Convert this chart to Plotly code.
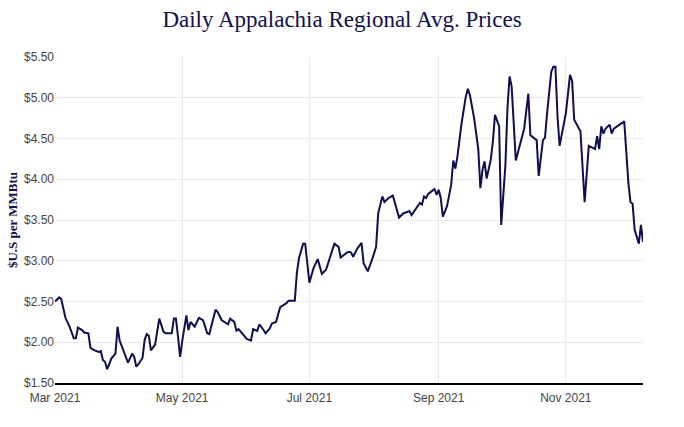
import plotly.graph_objects as go

dates = [
    "2021-03-01", "2021-03-03", "2021-03-04", "2021-03-05", "2021-03-06", "2021-03-08",
    "2021-03-10", "2021-03-11", "2021-03-12", "2021-03-14", "2021-03-15", "2021-03-17",
    "2021-03-18", "2021-03-20", "2021-03-22", "2021-03-23", "2021-03-24", "2021-03-25",
    "2021-03-26", "2021-03-27", "2021-03-28", "2021-03-30", "2021-03-31", "2021-04-01",
    "2021-04-03", "2021-04-05", "2021-04-07", "2021-04-08", "2021-04-09", "2021-04-10",
    "2021-04-12", "2021-04-13", "2021-04-14", "2021-04-15", "2021-04-16", "2021-04-18",
    "2021-04-20", "2021-04-22", "2021-04-23", "2021-04-26", "2021-04-27", "2021-04-28",
    "2021-04-29", "2021-04-30", "2021-05-01", "2021-05-03", "2021-05-04", "2021-05-05",
    "2021-05-07", "2021-05-09", "2021-05-11", "2021-05-13", "2021-05-14", "2021-05-17",
    "2021-05-18", "2021-05-20", "2021-05-23", "2021-05-24", "2021-05-26", "2021-05-27",
    "2021-05-28", "2021-05-31", "2021-06-01", "2021-06-03", "2021-06-04", "2021-06-06",
    "2021-06-07", "2021-06-09", "2021-06-10", "2021-06-12", "2021-06-13", "2021-06-15",
    "2021-06-17", "2021-06-20", "2021-06-21", "2021-06-24", "2021-06-25", "2021-06-26",
    "2021-06-28", "2021-06-29", "2021-07-01", "2021-07-03", "2021-07-05", "2021-07-07",
    "2021-07-09", "2021-07-12", "2021-07-13", "2021-07-15", "2021-07-16", "2021-07-19",
    "2021-07-20", "2021-07-21", "2021-07-22", "2021-07-24", "2021-07-26", "2021-07-27",
    "2021-07-29", "2021-07-31", "2021-08-02", "2021-08-03", "2021-08-05", "2021-08-06",
    "2021-08-08", "2021-08-10", "2021-08-11", "2021-08-13", "2021-08-15", "2021-08-17",
    "2021-08-18", "2021-08-19", "2021-08-21", "2021-08-23", "2021-08-24", "2021-08-25",
    "2021-08-26", "2021-08-27", "2021-08-29", "2021-08-30", "2021-08-31", "2021-09-01",
    "2021-09-02", "2021-09-03", "2021-09-05", "2021-09-07", "2021-09-08", "2021-09-09",
    "2021-09-10", "2021-09-12", "2021-09-14", "2021-09-15", "2021-09-16", "2021-09-18",
    "2021-09-20", "2021-09-21", "2021-09-22", "2021-09-23", "2021-09-24", "2021-09-26",
    "2021-09-27", "2021-09-28", "2021-09-30", "2021-10-01", "2021-10-03", "2021-10-04",
    "2021-10-05", "2021-10-06", "2021-10-08", "2021-10-10", "2021-10-12", "2021-10-14",
    "2021-10-15", "2021-10-18", "2021-10-19", "2021-10-21", "2021-10-22", "2021-10-23",
    "2021-10-25", "2021-10-26", "2021-10-27", "2021-10-28", "2021-10-29", "2021-11-01",
    "2021-11-03", "2021-11-04", "2021-11-05", "2021-11-08", "2021-11-10", "2021-11-12",
    "2021-11-15", "2021-11-16", "2021-11-17", "2021-11-18", "2021-11-19", "2021-11-20",
    "2021-11-22", "2021-11-23", "2021-11-24", "2021-11-29", "2021-12-01", "2021-12-02",
    "2021-12-03", "2021-12-04", "2021-12-06", "2021-12-07", "2021-12-08",
]

prices = [
    2.50, 2.55, 2.53, 2.40, 2.30, 2.19,
    2.05, 2.05, 2.18, 2.15, 2.12, 2.11,
    1.93, 1.90, 1.88, 1.89, 1.78, 1.76,
    1.67, 1.73, 1.80, 1.86, 2.19, 2.02,
    1.88, 1.75, 1.86, 1.82, 1.70, 1.73,
    1.81, 2.03, 2.10, 2.08, 1.90, 1.97,
    2.29, 2.13, 2.11, 2.11, 2.29, 2.29,
    2.07, 1.82, 2.01, 2.33, 2.15, 2.25,
    2.19, 2.30, 2.27, 2.11, 2.10, 2.40,
    2.37, 2.27, 2.22, 2.29, 2.25, 2.14,
    2.16, 2.07, 2.04, 2.02, 2.16, 2.14,
    2.22, 2.15, 2.11, 2.17, 2.23, 2.25,
    2.43, 2.48, 2.51, 2.51, 2.85, 3.03,
    3.21, 3.21, 2.73, 2.91, 3.02, 2.84,
    2.89, 3.13, 3.21, 3.17, 3.04, 3.10,
    3.11, 3.10, 3.05, 3.15, 3.22, 2.97,
    2.87, 3.01, 3.17, 3.58, 3.79, 3.72,
    3.77, 3.80, 3.70, 3.53, 3.58, 3.60,
    3.61, 3.56, 3.64, 3.71, 3.69, 3.79,
    3.77, 3.82, 3.86, 3.88, 3.81, 3.87,
    3.77, 3.54, 3.67, 3.93, 4.23, 4.13,
    4.28, 4.69, 5.01, 5.11, 5.03, 4.75,
    4.37, 3.89, 4.11, 4.22, 4.01, 4.24,
    4.46, 4.79, 4.65, 3.44, 4.17, 4.87,
    5.26, 5.14, 4.23, 4.42, 4.62, 5.05,
    4.54, 4.48, 4.04, 4.48, 4.51, 4.81,
    5.32, 5.38, 5.38, 4.77, 4.41, 4.81,
    5.28, 5.21, 4.73, 4.59, 3.72, 4.41,
    4.37, 4.53, 4.37, 4.65, 4.56, 4.62,
    4.67, 4.56, 4.62, 4.71, 3.95, 3.72,
    3.70, 3.38, 3.21, 3.44, 3.23,
]

title_text = "Daily Appalachia Regional Avg. Prices"
y_title = "$U.S per MMBtu"
navy = "#0f0f4f"

fig = go.Figure()
fig.add_trace(go.Scatter(
    x=dates, y=prices, mode="lines",
    line=dict(color=navy, width=2),
    showlegend=False,
))

fig.update_layout(
    width=684, height=427,
    margin=dict(l=55, r=41, t=57, b=44),
    paper_bgcolor="white", plot_bgcolor="white",
    title=dict(text=title_text, x=0.5, xanchor="center", y=0.955, yanchor="middle",
               font=dict(family="Liberation Serif", size=23, color=navy)),
    font=dict(family="Liberation Sans", size=12, color="#444"),
)
fig.update_xaxes(
    range=["2021-03-01", "2021-12-08"],
    dtick="M2", tick0="2021-03-01", tickformat="%b %Y",
    showgrid=True, gridcolor="#ebebeb", gridwidth=1,
    showline=True, linecolor="black", linewidth=2,
    ticks="", zeroline=False, ticklabelstandoff=3,
    tickfont=dict(family="Liberation Sans", size=12, color="#444"),
)
fig.update_yaxes(
    range=[1.5, 5.5], dtick=0.5, tickprefix="$", tickformat=".2f",
    showgrid=True, gridcolor="#ebebeb", gridwidth=1,
    zeroline=False, showline=False, ticks="",
    tickfont=dict(family="Liberation Sans", size=12, color="#444"),
    title=dict(text=y_title, standoff=3,
               font=dict(family="Liberation Serif", size=13, color=navy, weight="bold")),
)

fig.write_html("out.html")
